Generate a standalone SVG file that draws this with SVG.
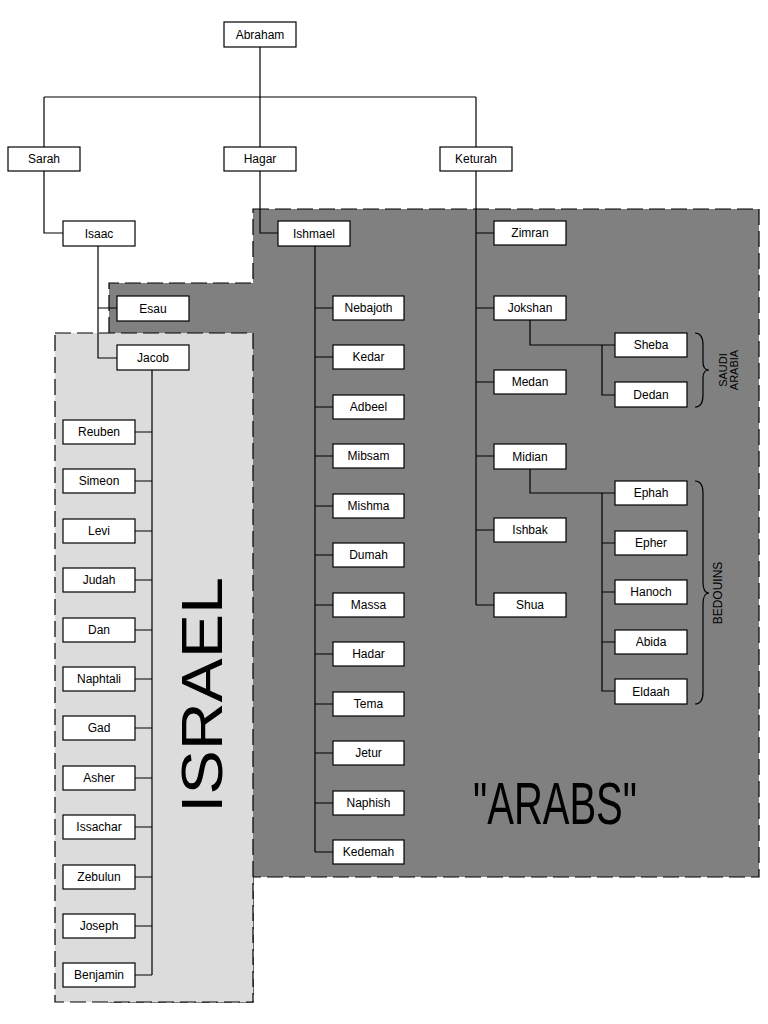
<svg xmlns="http://www.w3.org/2000/svg" width="768" height="1024" viewBox="0 0 768 1024">
<style>
.n rect{fill:#fff;stroke:#000;stroke-width:1.2}
.n text{font-family:"Liberation Sans Narrow","Liberation Sans",Arial,sans-serif;font-size:12px;text-anchor:middle;dominant-baseline:central}
.c{fill:none;stroke:#000;stroke-width:1.2}
.reg{stroke:#000;stroke-width:1.2;stroke-dasharray:16 6}
.lab{font-family:"Liberation Sans",Arial,sans-serif;text-anchor:middle}
</style>
<rect width="768" height="1024" fill="#fff"/>
<g id="regions">
<path class="reg" fill="#808080" d="M253,209H759V877H253V1002H109V283H253Z"/>
<rect class="reg" fill="#dcdcdc" x="55" y="333" width="198" height="669"/>
</g>
<g id="connectors" class="c">
<path d="M260,47V97M44,97H476M44,97V147M260,97V147M476,97V147"/>
<path d="M44,171V233H63M98,246V358H117M98,308H117"/>
<path d="M260,171V233H278M315,246V852"/>
<path d="M315,308H333M315,357H333M315,407H333M315,456H333M315,506H333M315,555H333M315,605H333M315,654H333M315,704H333M315,753H333M315,803H333M315,852H333"/>
<path d="M152,370V975M152,432H135M152,481H135M152,531H135M152,580H135M152,630H135M152,679H135M152,728H135M152,778H135M152,827H135M152,877H135M152,926H135M152,975H135"/>
<path d="M476,171V605M476,233H494M476,308H494M476,382H494M476,456H494M476,530H494M476,605H494"/>
<path d="M530,320V345H615M602,345V395H615M530,469V493H615M602,493V691H615M602,543H615M602,592H615M602,642H615"/>
<path d="M695,333Q703,333 703,345V362Q703,370 709,370Q703,370 703,378V395Q703,407 695,407"/>
<path d="M695,481Q703,481 703,493V582Q703,593 709,593Q703,593 703,604V692Q703,704 695,704"/>
</g>
<g class="lab">
<text transform="translate(733,370) rotate(-90)" font-size="11"><tspan x="0" dy="-6">SAUDI</tspan><tspan x="0" dy="11">ARABIA</tspan></text>
<text transform="translate(722,593) rotate(-90)" font-size="12">BEDOUINS</text>
<text transform="translate(222,695) rotate(-90)" font-size="58" textLength="236" lengthAdjust="spacingAndGlyphs">ISRAEL</text>
<text x="555" y="824" font-size="60" textLength="164" lengthAdjust="spacingAndGlyphs">"ARABS"</text>
</g>
<g id="Abraham" class="n"><rect x="224" y="22" width="72" height="25"/><text x="260" y="34.5">Abraham</text></g>
<g id="Sarah" class="n"><rect x="8" y="147" width="72" height="24"/><text x="44" y="159">Sarah</text></g>
<g id="Hagar" class="n"><rect x="224" y="147" width="72" height="24"/><text x="260" y="159">Hagar</text></g>
<g id="Keturah" class="n"><rect x="440" y="147" width="72" height="24"/><text x="476" y="159">Keturah</text></g>
<g id="Isaac" class="n"><rect x="63" y="221" width="72" height="25"/><text x="99" y="233.5">Isaac</text></g>
<g id="Ishmael" class="n"><rect x="278" y="221" width="72" height="25"/><text x="314" y="233.5">Ishmael</text></g>
<g id="Esau" class="n"><rect x="117" y="296" width="72" height="25"/><text x="153" y="308.5">Esau</text></g>
<g id="Jacob" class="n"><rect x="117" y="345" width="72" height="25"/><text x="153" y="357.5">Jacob</text></g>
<g id="Reuben" class="n"><rect x="63" y="420" width="72" height="24"/><text x="99" y="432">Reuben</text></g>
<g id="Simeon" class="n"><rect x="63" y="469" width="72" height="24"/><text x="99" y="481">Simeon</text></g>
<g id="Levi" class="n"><rect x="63" y="519" width="72" height="24"/><text x="99" y="531">Levi</text></g>
<g id="Judah" class="n"><rect x="63" y="568" width="72" height="24"/><text x="99" y="580">Judah</text></g>
<g id="Dan" class="n"><rect x="63" y="618" width="72" height="24"/><text x="99" y="630">Dan</text></g>
<g id="Naphtali" class="n"><rect x="63" y="667" width="72" height="24"/><text x="99" y="679">Naphtali</text></g>
<g id="Gad" class="n"><rect x="63" y="716" width="72" height="24"/><text x="99" y="728">Gad</text></g>
<g id="Asher" class="n"><rect x="63" y="766" width="72" height="24"/><text x="99" y="778">Asher</text></g>
<g id="Issachar" class="n"><rect x="63" y="815" width="72" height="24"/><text x="99" y="827">Issachar</text></g>
<g id="Zebulun" class="n"><rect x="63" y="865" width="72" height="24"/><text x="99" y="877">Zebulun</text></g>
<g id="Joseph" class="n"><rect x="63" y="914" width="72" height="24"/><text x="99" y="926">Joseph</text></g>
<g id="Benjamin" class="n"><rect x="63" y="963" width="72" height="24"/><text x="99" y="975">Benjamin</text></g>
<g id="Nebajoth" class="n"><rect x="333" y="296" width="71" height="24"/><text x="368.5" y="308">Nebajoth</text></g>
<g id="Kedar" class="n"><rect x="333" y="345" width="71" height="24"/><text x="368.5" y="357">Kedar</text></g>
<g id="Adbeel" class="n"><rect x="333" y="395" width="71" height="24"/><text x="368.5" y="407">Adbeel</text></g>
<g id="Mibsam" class="n"><rect x="333" y="444" width="71" height="24"/><text x="368.5" y="456">Mibsam</text></g>
<g id="Mishma" class="n"><rect x="333" y="494" width="71" height="24"/><text x="368.5" y="506">Mishma</text></g>
<g id="Dumah" class="n"><rect x="333" y="543" width="71" height="24"/><text x="368.5" y="555">Dumah</text></g>
<g id="Massa" class="n"><rect x="333" y="593" width="71" height="24"/><text x="368.5" y="605">Massa</text></g>
<g id="Hadar" class="n"><rect x="333" y="642" width="71" height="24"/><text x="368.5" y="654">Hadar</text></g>
<g id="Tema" class="n"><rect x="333" y="692" width="71" height="24"/><text x="368.5" y="704">Tema</text></g>
<g id="Jetur" class="n"><rect x="333" y="741" width="71" height="24"/><text x="368.5" y="753">Jetur</text></g>
<g id="Naphish" class="n"><rect x="333" y="791" width="71" height="24"/><text x="368.5" y="803">Naphish</text></g>
<g id="Kedemah" class="n"><rect x="333" y="840" width="71" height="24"/><text x="368.5" y="852">Kedemah</text></g>
<g id="Zimran" class="n"><rect x="494" y="221" width="72" height="24"/><text x="530" y="233">Zimran</text></g>
<g id="Jokshan" class="n"><rect x="494" y="296" width="72" height="24"/><text x="530" y="308">Jokshan</text></g>
<g id="Medan" class="n"><rect x="494" y="370" width="72" height="24"/><text x="530" y="382">Medan</text></g>
<g id="Midian" class="n"><rect x="494" y="444" width="72" height="25"/><text x="530" y="456.5">Midian</text></g>
<g id="Ishbak" class="n"><rect x="494" y="518" width="72" height="24"/><text x="530" y="530">Ishbak</text></g>
<g id="Shua" class="n"><rect x="494" y="593" width="72" height="24"/><text x="530" y="605">Shua</text></g>
<g id="Sheba" class="n"><rect x="615" y="333" width="72" height="24"/><text x="651" y="345">Sheba</text></g>
<g id="Dedan" class="n"><rect x="615" y="382" width="72" height="25"/><text x="651" y="394.5">Dedan</text></g>
<g id="Ephah" class="n"><rect x="615" y="481" width="72" height="24"/><text x="651" y="493">Ephah</text></g>
<g id="Epher" class="n"><rect x="615" y="531" width="72" height="24"/><text x="651" y="543">Epher</text></g>
<g id="Hanoch" class="n"><rect x="615" y="580" width="72" height="24"/><text x="651" y="592">Hanoch</text></g>
<g id="Abida" class="n"><rect x="615" y="630" width="72" height="24"/><text x="651" y="642">Abida</text></g>
<g id="Eldaah" class="n"><rect x="615" y="679" width="72" height="25"/><text x="651" y="691.5">Eldaah</text></g>
</svg>
